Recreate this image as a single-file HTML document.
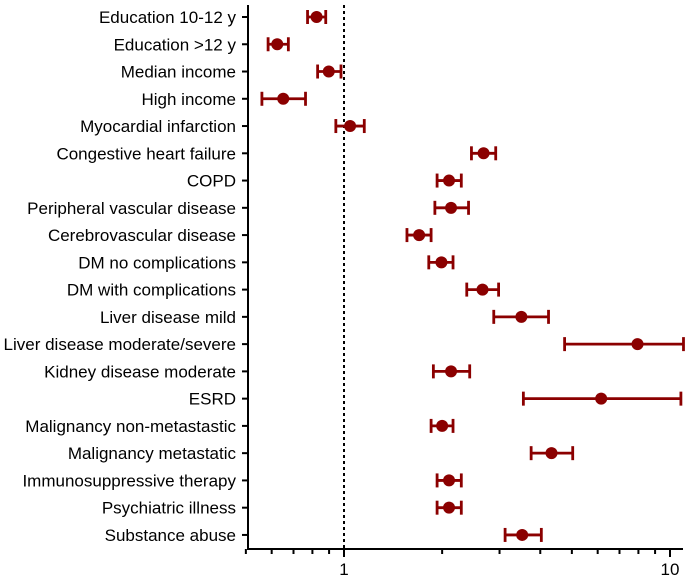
<!DOCTYPE html>
<html><head><meta charset="utf-8"><style>
body{margin:0;background:#fff;}
svg text{font-family:"Liberation Sans",Arial,sans-serif;fill:#000;}
</style></head><body>
<svg id="chart" width="685" height="582" xmlns="http://www.w3.org/2000/svg"></svg>
<script>
const categories=["Education 10-12 y","Education >12 y","Median income","High income","Myocardial infarction","Congestive heart failure","COPD","Peripheral vascular disease","Cerebrovascular disease","DM no complications","DM with complications","Liver disease mild","Liver disease moderate/severe","Kidney disease moderate","ESRD","Malignancy non-metastastic","Malignancy metastatic","Immunosuppressive therapy","Psychiatric illness","Substance abuse"];
const estimates=[0.824,0.624,0.898,0.651,1.044,2.68,2.10,2.13,1.70,1.99,2.66,3.50,7.95,2.13,6.15,2.00,4.33,2.10,2.10,3.52];
const lowerCI=[0.773,0.585,0.83,0.56,0.944,2.46,1.93,1.90,1.56,1.82,2.38,2.88,4.75,1.88,3.55,1.85,3.75,1.93,1.93,3.12];
const upperCI=[0.879,0.675,0.979,0.762,1.154,2.92,2.29,2.41,1.85,2.16,2.98,4.24,11.0,2.43,10.8,2.16,5.03,2.29,2.29,4.03];
const majorTicks=[1,10];
const minorTicks=[0.5,0.6,0.7,0.8,0.9,2,3,4,5,6,7,8,9];
const NS="http://www.w3.org/2000/svg";
const svg=document.getElementById('chart');
const x0=248,x1=683,axisY=549,xOne=344,decade=326;
function xs(v){return xOne+Math.log10(v)*decade;}
function ys(i){return 17+i*27.26;}
function el(t,a,p){const e=document.createElementNS(NS,t);for(const k in a)e.setAttribute(k,a[k]);(p||svg).appendChild(e);return e;}
const red="#8b0000";
let a=el('line',{x1:x0,y1:5,x2:x0,y2:axisY+1,stroke:'#000','stroke-width':2});


a=el('line',{x1:x0-1,y1:axisY,x2:x1,y2:axisY,stroke:'#000','stroke-width':2});


a=el('line',{x1:xs(1),y1:5,x2:xs(1),y2:axisY,stroke:'#000','stroke-width':2,'stroke-dasharray':'3,3'});


minorTicks.forEach(v=>{const t=el('line',{x1:xs(v),y1:axisY,x2:xs(v),y2:axisY+5,stroke:'#000','stroke-width':2});

});
majorTicks.forEach(v=>{const t=el('line',{x1:xs(v),y1:axisY,x2:xs(v),y2:axisY+8,stroke:'#000','stroke-width':2});


const l=el('text',{x:xs(v),y:axisY+26,'text-anchor':'middle','font-size':17});l.textContent=v;

});
categories.forEach((c,i)=>{
 const y=ys(i);
 const tk=el('line',{x1:x0-6,y1:y,x2:x0,y2:y,stroke:'#000','stroke-width':2});
 
 
 const l=el('text',{x:236,y:y+6,'text-anchor':'end','font-size':17});l.textContent=c;
 
 
 const g=el('g',{stroke:red,'stroke-width':2.8,fill:red});
 
 
 const xl=xs(lowerCI[i]),xu=xs(upperCI[i]);
 el('line',{x1:xl,y1:y,x2:xu,y2:y},g);
 el('line',{x1:xl,y1:y-7,x2:xl,y2:y+7},g);
 el('line',{x1:xu,y1:y-7,x2:xu,y2:y+7},g);
 const p=el('circle',{cx:xs(estimates[i]),cy:y,r:6,stroke:'none'},g);
 
 
});
</script>
</body></html>
